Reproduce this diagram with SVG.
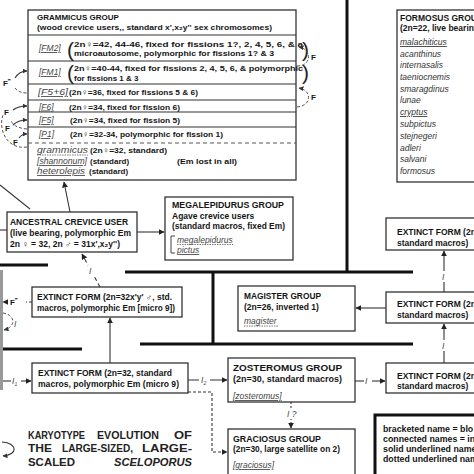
<svg xmlns="http://www.w3.org/2000/svg" width="474" height="474" viewBox="0 0 474 474">
<defs>
<marker id="ah" viewBox="0 0 10 10" refX="9" refY="5" markerWidth="6" markerHeight="6" orient="auto-start-reverse" markerUnits="userSpaceOnUse"><path d="M0,0 L10,5 L0,10 z" fill="#222"/></marker>
<marker id="ahs" viewBox="0 0 10 10" refX="9" refY="5" markerWidth="5" markerHeight="5" orient="auto" markerUnits="userSpaceOnUse"><path d="M0,0 L10,5 L0,10 z" fill="#333"/></marker>
</defs>
<style>
text{font-family:"Liberation Sans",Arial,sans-serif;fill:#151515}
.b{font-weight:bold;font-size:8.5px}
.s{font-weight:bold;font-size:8px}
.i{font-style:italic;font-size:8.5px;fill:#333}
.lab{font-style:italic;font-size:8.5px;fill:#444}
.u{text-decoration:underline}
.box{fill:#fff;stroke:#333;stroke-width:1.3}
.div{stroke:#333;stroke-width:1.1}
.thick{stroke:#111;stroke-width:3;fill:none}
.c{stroke:#333;stroke-width:1.1;fill:none}
.d{stroke:#555;stroke-width:1;fill:none;stroke-dasharray:3 2}
.t{font-weight:bold;font-size:11.5px;fill:#222}
.lg{font-weight:bold;font-size:8.8px}
</style>
<rect width="474" height="474" fill="#fff"/>

<g id="tree">
<path class="thick" d="M347,0 V273 M125,272 H413 M213,272 V344 M140,344 H413 M0,265 H48 M0,349 H82"/>
<line x1="1.5" y1="270" x2="1.5" y2="390" stroke="#999" stroke-width="3"/>
</g>

<g id="grammicus">
<rect class="box" x="28" y="10" width="268" height="170"/>
<path class="div" d="M28,35 H296 M28,61 H296 M28,84 H296 M28,100 H296 M28,112 H296 M28,127 H296"/>
<line x1="28" y1="143" x2="296" y2="143" stroke="#555" stroke-width="1" stroke-dasharray="4 3"/>
<text class="s" x="37" y="19.5">GRAMMICUS GROUP</text>
<text class="s" x="37" y="30" textLength="235" lengthAdjust="spacingAndGlyphs">(wood crevice users,, standard x',x₂y'' sex chromosomes)</text>
<text class="lab u" x="39" y="51">[FM2]</text>
<text style="font-size:21px;fill:#222" x="67" y="57">(</text>
<text class="s" x="74" y="46.5" textLength="229" lengthAdjust="spacingAndGlyphs">2n♀=42, 44-46, fixed for fissions 1?, 2, 4, 5, 6, &amp; a</text>
<text class="s" x="74" y="56" textLength="200" lengthAdjust="spacingAndGlyphs">microautosome, polymorphic for fissions 1? &amp; 3</text>
<text style="font-size:21px;fill:#222" x="302" y="57">)</text>
<text class="lab u" x="39" y="75">[FM1]</text>
<text style="font-size:21px;fill:#222" x="67" y="80">(</text>
<text class="s" x="74" y="71" textLength="229" lengthAdjust="spacingAndGlyphs">2n♀=40-44, fixed for fissions 2, 4, 5, 6, &amp; polymorphic</text>
<text class="s" x="74" y="80.5">for fissions 1 &amp; 3</text>
<text style="font-size:21px;fill:#222" x="302" y="80">)</text>
<text class="lab u" x="38" y="95" textLength="30" lengthAdjust="spacingAndGlyphs">[F5+6]</text>
<text class="s" x="69" y="95" textLength="129" lengthAdjust="spacingAndGlyphs">(2n♀=36, fixed for fissions 5 &amp; 6)</text>
<text class="lab u" x="39" y="109.5">[F6]</text>
<text class="s" x="69" y="109.5" textLength="111" lengthAdjust="spacingAndGlyphs">(2n♀=34, fixed for fission 6)</text>
<text class="lab u" x="39" y="123">[F5]</text>
<text class="s" x="70" y="123" textLength="110" lengthAdjust="spacingAndGlyphs">(2n♀=34, fixed for fission 5)</text>
<text class="lab u" x="39" y="137">[P1]</text>
<text class="s" x="70" y="137" textLength="153" lengthAdjust="spacingAndGlyphs">(2n♀=32-34, polymorphic for fission 1)</text>
<text class="lab" x="37" y="153" textLength="51" lengthAdjust="spacingAndGlyphs">grammicus</text>
<line x1="37" y1="155" x2="88" y2="155" stroke="#555" stroke-width="0.8" stroke-dasharray="1.5 1"/>
<text class="s" x="90" y="153" textLength="77" lengthAdjust="spacingAndGlyphs">(2n♀=32, standard)</text>
<text class="lab u" x="37" y="164" textLength="50" lengthAdjust="spacingAndGlyphs">[shannonum]</text>
<text class="s" x="90" y="164">(standard)</text>
<text class="s" x="177" y="164" textLength="60" lengthAdjust="spacingAndGlyphs">(Em lost in all)</text>
<text class="lab u" x="37" y="174" textLength="48" lengthAdjust="spacingAndGlyphs">heterolepis</text>
<text class="s" x="89" y="174">(standard)</text>
</g>

<g id="formosus">
<rect class="box" x="397" y="10" width="100" height="172"/>
<text class="b" x="400" y="20.5">FORMOSUS GROUP</text>
<text class="b" x="400" y="31">(2n=22, live bearing</text>
<text class="i u" x="400" y="45">malachiticus</text>
<text class="i" x="400" y="57">acanthinus</text>
<text class="i" x="400" y="68">internasalis</text>
<text class="i" x="400" y="80">taeniocnemis</text>
<text class="i" x="400" y="92">smaragdinus</text>
<text class="i" x="400" y="103">lunae</text>
<text class="i u" x="400" y="115">cryptus</text>
<text class="i" x="400" y="127">subpictus</text>
<text class="i" x="400" y="139">stejnegeri</text>
<text class="i" x="400" y="151">adleri</text>
<text class="i" x="400" y="162">salvani</text>
<text class="i" x="400" y="174">formosus</text>
</g>

<g id="ancestral">
<rect class="box" x="7" y="212" width="130" height="40"/>
<text class="b" x="10" y="225" textLength="118" lengthAdjust="spacingAndGlyphs">ANCESTRAL CREVICE USER</text>
<text class="b" x="10" y="236" textLength="121" lengthAdjust="spacingAndGlyphs">(live bearing, polymorphic Em</text>
<text class="b" x="10" y="247" textLength="110" lengthAdjust="spacingAndGlyphs">2n ♀ = 32, 2n ♂ = 31x',x₂y'')</text>
</g>

<g id="megalepidurus">
<rect class="box" x="165" y="197" width="128" height="63"/>
<text class="b" x="172" y="208" textLength="112" lengthAdjust="spacingAndGlyphs">MEGALEPIDURUS GROUP</text>
<text class="b" x="172" y="218.5">Agave crevice users</text>
<text class="b" x="172" y="229" textLength="113" lengthAdjust="spacingAndGlyphs">(standard macros, fixed Em)</text>
<path d="M175,236 H171 V253 H175" fill="none" stroke="#444" stroke-width="1"/>
<text class="lab" x="177" y="242.5">megalepidurus</text>
<line x1="177" y1="244.5" x2="233" y2="244.5" stroke="#555" stroke-width="0.8" stroke-dasharray="1.5 1"/>
<text class="lab u" x="177" y="253">pictus</text>
</g>

<g id="magister">
<rect class="box" x="238" y="286" width="117" height="45"/>
<text class="b" x="244" y="299" textLength="77" lengthAdjust="spacingAndGlyphs">MAGISTER GROUP</text>
<text class="b" x="244" y="310">(2n=26, inverted 1)</text>
<text class="lab" x="244" y="324">magister</text>
<line x1="244" y1="326" x2="279" y2="326" stroke="#555" stroke-width="0.8" stroke-dasharray="1.5 1"/>
</g>

<g id="extinct1">
<rect class="box" x="32" y="287" width="150" height="30"/>
<text class="b" x="37" y="300" textLength="135" lengthAdjust="spacingAndGlyphs">EXTINCT FORM (2n=32x'y' ♂, std.</text>
<text class="b" x="37" y="311" textLength="138" lengthAdjust="spacingAndGlyphs">macros, polymorphic Em [micro 9])</text>
</g>

<g id="extinct2">
<rect class="box" x="32" y="363" width="156" height="30"/>
<text class="b" x="38" y="376" textLength="134" lengthAdjust="spacingAndGlyphs">EXTINCT FORM (2n=32, standard</text>
<text class="b" x="38" y="386.5" textLength="141" lengthAdjust="spacingAndGlyphs">macros, polymorphic Em (micro 9)</text>
</g>

<g id="zosteromus">
<rect class="box" x="228" y="358" width="127" height="44"/>
<text class="b" x="233" y="370.5" textLength="109" lengthAdjust="spacingAndGlyphs">ZOSTEROMUS GROUP</text>
<text class="b" x="233" y="381.5" textLength="109" lengthAdjust="spacingAndGlyphs">(2n=30, standard macros)</text>
<text class="lab u" x="233" y="399">[zosteromus]</text>
</g>

<g id="graciosus">
<rect class="box" x="228" y="429" width="127" height="60"/>
<text class="b" x="233" y="441.5" textLength="88" lengthAdjust="spacingAndGlyphs">GRACIOSUS GROUP</text>
<text class="b" x="233" y="451.5" textLength="107" lengthAdjust="spacingAndGlyphs">(2n=30, large satellite on 2)</text>
<text class="lab u" x="233" y="468">[graciosus]</text>
</g>

<g id="extinct5">
<rect class="box" x="386" y="218" width="100" height="32"/>
<text class="b" x="397" y="235">EXTINCT FORM (2n</text>
<text class="b" x="397" y="246">standard macros)</text>
</g>

<g id="extinct4">
<rect class="box" x="386" y="292" width="100" height="31"/>
<text class="b" x="397" y="307">EXTINCT FORM (2n</text>
<text class="b" x="397" y="317.5">standard macros)</text>
</g>

<g id="extinct3">
<rect class="box" x="386" y="363" width="100" height="30"/>
<text class="b" x="397" y="379">EXTINCT FORM (2n</text>
<text class="b" x="397" y="389">standard macros)</text>
</g>

<g id="legend">
<rect x="375" y="415" width="110" height="70" fill="#fff" stroke="#111" stroke-width="3"/>
<text class="lg" x="383" y="432">bracketed name = blo</text>
<text class="lg" x="383" y="442">connected names = inf</text>
<text class="lg" x="383" y="452">solid underlined name=</text>
<text class="lg" x="383" y="462">dotted underlined name</text>
</g>

<g id="title">
<text class="t" x="28" y="439" textLength="57" lengthAdjust="spacingAndGlyphs">KARYOTYPE</text>
<text class="t" x="97" y="439" textLength="62" lengthAdjust="spacingAndGlyphs">EVOLUTION</text>
<text class="t" x="174" y="439" textLength="18" lengthAdjust="spacingAndGlyphs">OF</text>
<text class="t" x="28" y="452" textLength="24" lengthAdjust="spacingAndGlyphs">THE</text>
<text class="t" x="62" y="452" textLength="71" lengthAdjust="spacingAndGlyphs">LARGE-SIZED,</text>
<text class="t" x="142" y="452" textLength="50" lengthAdjust="spacingAndGlyphs">LARGE-</text>
<text class="t" x="28" y="466" textLength="47" lengthAdjust="spacingAndGlyphs">SCALED</text>
<text class="t" x="114" y="466" textLength="78" lengthAdjust="spacingAndGlyphs" font-style="italic">SCELOPORUS</text>
</g>

<g id="connectors">
<line class="c" x1="70" y1="212" x2="64" y2="182" marker-end="url(#ah)"/>
<line class="c" x1="137" y1="232" x2="164" y2="232" marker-end="url(#ah)"/>
<line class="c" x1="100" y1="287" x2="82" y2="254" stroke-dasharray="4 3" marker-end="url(#ah)"/>
<rect x="88" y="265" width="8" height="11" fill="#fff"/>
<text class="lab" x="89" y="274">I</text>
<line class="c" x1="110" y1="363" x2="110" y2="318" marker-end="url(#ah)"/>
<line class="c" x1="32" y1="302" x2="3" y2="302" stroke-dasharray="3 2" marker-end="url(#ah)"/>
<rect x="9" y="296" width="17" height="10" fill="#fff"/>
<text class="s" x="10" y="305">F<tspan font-size="5" dy="-3">‴</tspan></text>
<path class="d" d="M3,313 C16,315 16,327 4,330" marker-end="url(#ahs)"/>
<text class="lab" x="14" y="327">I</text>
<line class="c" x1="3" y1="381" x2="31" y2="381" marker-end="url(#ah)"/>
<rect x="11" y="375" width="10" height="11" fill="#fff"/>
<text class="lab" x="12" y="384">I<tspan font-size="5" dy="2">1</tspan></text>
<path class="c" d="M2,442 C18,443 18,455 3,456" marker-end="url(#ahs)"/>
<line class="c" x1="188" y1="380" x2="227" y2="380" marker-end="url(#ah)"/>
<rect x="199" y="374" width="11" height="11" fill="#fff"/>
<text class="lab" x="201" y="383">I<tspan font-size="5" dy="2">2</tspan></text>
<path class="c" d="M188,392 H212 V452 H227" stroke-dasharray="3 2" marker-end="url(#ah)"/>
<line class="c" x1="355" y1="381" x2="385" y2="381" marker-end="url(#ah)"/>
<rect x="364" y="375" width="8" height="11" fill="#fff"/>
<text class="lab" x="365" y="384">I</text>
<line class="c" x1="291" y1="402" x2="291" y2="428" stroke-dasharray="2 2" marker-end="url(#ah)"/>
<rect x="285" y="408" width="16" height="11" fill="#fff"/>
<text class="lab" x="287" y="417">I ?</text>
<line class="c" x1="444" y1="363" x2="444" y2="324" marker-end="url(#ah)"/>
<rect x="440" y="340" width="8" height="11" fill="#fff"/>
<text class="lab" x="442" y="349">I</text>
<line class="c" x1="444" y1="292" x2="444" y2="251" marker-end="url(#ah)"/>
<rect x="440" y="271" width="8" height="11" fill="#fff"/>
<text class="lab" x="442" y="280">I</text>
<line class="c" x1="386" y1="308" x2="356" y2="308" marker-end="url(#ah)"/>
<path class="d" d="M297,66 C312,66 312,49 299,47" marker-end="url(#ahs)"/>
<rect x="309" y="52" width="9" height="10" fill="#fff"/>
<text class="s" x="311" y="60">F</text>
<path class="d" d="M297,107 C312,106 312,90 299,88" marker-end="url(#ahs)"/>
<rect x="309" y="92" width="9" height="10" fill="#fff"/>
<text class="s" x="311" y="100">F</text>
<path class="c" d="M15,78 C18,73 22,71 27,71" marker-end="url(#ahs)"/>
<path class="d" d="M15,88 C18,92 22,93 27,93"/>
<text class="s" x="3" y="86">F<tspan font-size="5" dy="-3">‴</tspan></text>
<path class="c" d="M13,110 C17,107 21,106 27,106" marker-end="url(#ahs)"/>
<text class="s" x="4" y="115">F</text>
<path class="c" d="M13,125 C17,121 21,120 27,120" marker-end="url(#ahs)"/>
<text class="s" x="5" y="131">F</text>
<path class="c" d="M19,138 C21,135 24,134 27,134" marker-end="url(#ahs)"/>
<text class="s" x="13" y="145">F</text>
<path class="d" d="M27,147 C6,150 -2,128 3,115"/>
<path class="d" d="M27,129 C16,128 12,124 11,120"/>
<line class="c" x1="0" y1="185" x2="30" y2="209"/>
<line class="c" x1="0" y1="230" x2="7" y2="230"/>
</g>
</svg>
